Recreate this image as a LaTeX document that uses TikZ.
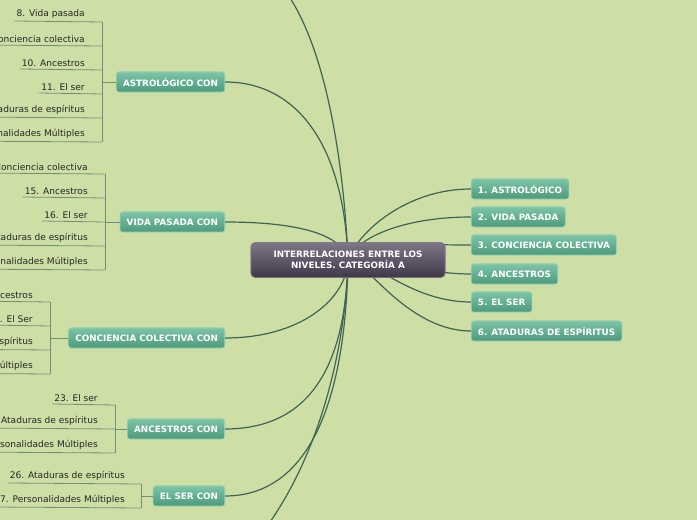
\documentclass[tikz,border=0pt]{standalone}
\usepackage{fontspec}
\setmainfont{DejaVu Sans}
\usetikzlibrary{shadows}
\definecolor{bg}{HTML}{CDDFA5}
\definecolor{lk}{HTML}{3F6354}
\definecolor{gtop}{HTML}{7CC4A6}
\definecolor{gbot}{HTML}{4E9A7D}
\definecolor{ctop}{HTML}{7E7788}
\definecolor{cbot}{HTML}{3E3848}
\definecolor{leafl}{HTML}{6E9078}
\begin{document}
\begin{tikzpicture}[x=0.75pt,y=-0.75pt,
  topic/.style={rounded corners=2pt,top color=gtop,bottom color=gbot,draw=gtop!80!white,
    text=white,font=\bfseries\fontsize{6.6}{8}\selectfont,minimum height=15pt,inner xsep=5pt,anchor=west},
  leaf/.style={font=\fontsize{6.8}{8}\selectfont,text=black!85,anchor=south east,inner sep=1.5pt},
  lk/.style={draw=lk,line width=0.9pt},
  br/.style={draw=leafl,line width=0.6pt}]
\useasboundingbox[fill=bg] (0,0) rectangle (697,520);
% center
\node[rounded corners=3pt,top color=ctop,bottom color=cbot,draw=ctop,text=white,align=center,
  font=\bfseries\fontsize{6.6}{8.4}\selectfont,minimum width=145.5pt,minimum height=26pt] (c) at (348,260)
  {INTERRELACIONES ENTRE LOS\\NIVELES. CATEGORÍA A};
\coordinate (hub) at (348,262);
\coordinate (top) at (290,-2);
\coordinate (bot) at (270,522);
% right topics
\foreach \n/\y/\t in {r1/189/1. ASTROLÓGICO,r2/217/2. VIDA PASADA,r3/245/3. CONCIENCIA COLECTIVA,r4/274/4. ANCESTROS,r5/302/5. EL SER,r6/331/6. ATADURAS DE ESPÍRITUS}{
  \node[topic] (\n) at (471,\y) {\t};}
% left topics
\node[topic,anchor=east] (l1) at (225,82) {ASTROLÓGICO CON};
\node[topic,anchor=east] (l2) at (225,222) {VIDA PASADA CON};
\node[topic,anchor=east] (l3) at (225,338) {CONCIENCIA COLECTIVA CON};
\node[topic,anchor=east] (l4) at (225,429) {ANCESTROS CON};
\node[topic,anchor=east] (l5) at (225,496) {EL SER CON};
% connectors
\begin{scope}[on background layer/.style={}]
\foreach \n in {r1,r2,r3,r4,r5,r6}{
  \draw[lk] (hub) .. controls (352,240) and (400,0|-\n.west) .. (\n.west);}
\draw[lk] (hub) .. controls (345,180) and (330,60) .. (top);
\draw[lk] (hub) .. controls (345,350) and (320,450) .. (bot);
\draw[lk] (hub) .. controls (345,150) and (300,82) .. (l1.east);
\draw[lk] (hub) .. controls (345,235) and (300,222) .. (l2.east);
\draw[lk] (hub) .. controls (345,300) and (300,338) .. (l3.east);
\draw[lk] (hub) .. controls (345,380) and (300,429) .. (l4.east);
\draw[lk] (hub) .. controls (345,420) and (300,496) .. (l5.east);
\end{scope}
\node[rounded corners=3pt,top color=ctop,bottom color=cbot,draw=ctop,text=white,align=center,
  font=\bfseries\fontsize{6.6}{8.4}\selectfont,minimum width=145.5pt,minimum height=26pt] at (348,260)
  {INTERRELACIONES ENTRE LOS\\NIVELES. CATEGORÍA A};
\foreach \n/\y/\t in {r1/189/1. ASTROLÓGICO,r2/217/2. VIDA PASADA,r3/245/3. CONCIENCIA COLECTIVA,r4/274/4. ANCESTROS,r5/302/5. EL SER,r6/331/6. ATADURAS DE ESPÍRITUS}{
  \node[topic] at (471,\y) {\t};}
\node[topic,anchor=east] at (225,82) {ASTROLÓGICO CON};
\node[topic,anchor=east] at (225,222) {VIDA PASADA CON};
\node[topic,anchor=east] at (225,338) {CONCIENCIA COLECTIVA CON};
\node[topic,anchor=east] at (225,429) {ANCESTROS CON};
\node[topic,anchor=east] at (225,496) {EL SER CON};
% leaf groups
\newcommand{\leafgroup}[5]{% name, bracket x, text right x, first y, list
  \coordinate (#1b) at (#2,#4);
  \foreach \t [count=\i from 0] in {#5}{
    \node[leaf] (#1\i) at (#3,#4+24*\i-1) {\t};
    \draw[br] (#1\i.south west) -- (#2,#4+24*\i);
    \xdef\lasty{\the\numexpr#4+24*\i\relax}}
  \draw[br] (#2,#4) -- (#2,\lasty);}
\leafgroup{a}{102}{87}{22}{8. Vida pasada,9. Conciencia colectiva,10. Ancestros,11. El ser,12. Ataduras de espíritus,13. Personalidades Múltiples}
\draw[br] (102,82) -- (l1.west);
\leafgroup{b}{105}{90}{174}{14. Conciencia colectiva,15. Ancestros,16. El ser,17. Ataduras de espíritus,18. Personalidades Múltiples}
\draw[br] (105,222) -- (l2.west);
\leafgroup{c}{50}{35}{302}{19. Ancestros,20. El Ser,21. Ataduras de espíritus,22. Personalidades Múltiples}
\draw[br] (50,338) -- (l3.west);
\leafgroup{d}{115}{100}{405}{23. El ser,24. Ataduras de espíritus,25. Personalidades Múltiples}
\draw[br] (115,429) -- (l4.west);
\leafgroup{e}{141}{127}{484}{26. Ataduras de espíritus,27. Personalidades Múltiples}
\draw[br] (141,496) -- (l5.west);
\end{tikzpicture}
\end{document}
